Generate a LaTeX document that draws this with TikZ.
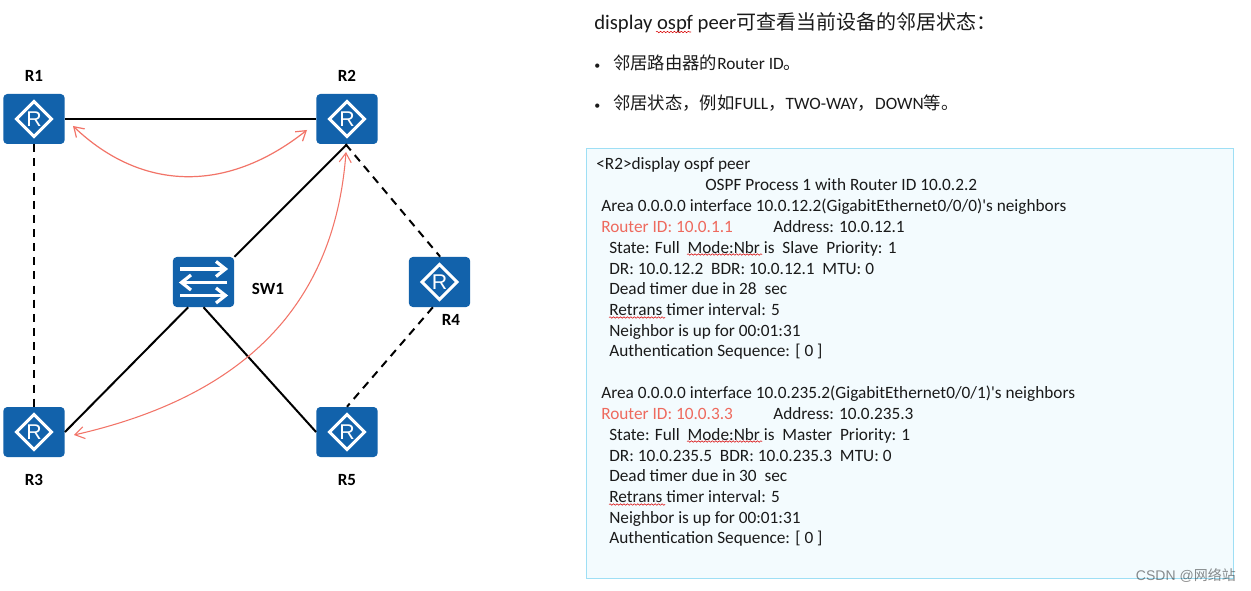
\documentclass[tikz,border=0pt]{standalone}
\usepackage{fontspec}
\setmainfont{Carlito}
\newfontfamily\cjk{Noto Sans CJK SC}
\newfontfamily\rfont{Liberation Sans}
\usetikzlibrary{arrows.meta,decorations.pathmorphing}
\definecolor{hwblue}{HTML}{1262AB}
\definecolor{redline}{HTML}{F27468}
\definecolor{redtext}{HTML}{EE6A5E}
\definecolor{panelfill}{HTML}{F3FBFE}
\definecolor{panelline}{HTML}{9EDFF5}
\definecolor{txt}{HTML}{1A1A1A}
\tikzset{
  x=0.75pt,y=-0.75pt,
  devbox/.style={fill=hwblue,rounded corners=3pt,minimum width=46pt,minimum height=37.5pt,inner sep=0pt,draw=none},
  icon/.style={draw=white,line width=2.2pt,line cap=butt,line join=miter},
  swicon/.style={draw=white,line width=2.4pt,line cap=butt,line join=miter},
  rletter/.style={text=white,font=\rfont\fontsize{16}{16}\selectfont,inner sep=0pt},
  devlabel/.style={font=\bfseries\fontsize{12.8}{13}\selectfont,inner sep=0pt,text=black},
  link/.style={draw=black,line width=1.5pt},
  dashlink/.style={link,dash pattern=on 6pt off 4.6pt},
  flow/.style={draw=redline,line width=0.9pt,{Straight Barb[length=7pt,width=9pt,line width=0.9pt]}-{Straight Barb[length=7pt,width=9pt,line width=0.9pt]}},
  flowone/.style={draw=redline,line width=0.8pt,{Straight Barb[length=7pt,width=9pt,line width=0.8pt]}-{Straight Barb[length=7pt,width=9pt,line width=0.8pt]}},
  cons/.style={anchor=base west,inner sep=0pt,text=txt,font=\fontsize{12.95}{14}\selectfont},
  consred/.style={cons,text=redtext},
  head/.style={anchor=base west,inner sep=0pt,text=txt,font=\fontsize{15.5}{16}\selectfont},
  bullet/.style={anchor=base west,inner sep=0pt,text=txt,font=\fontsize{13}{14}\selectfont},
  bulletdot/.style={anchor=base west,inner sep=0pt,text=txt,font=\fontsize{9}{10}\selectfont},
  wavy/.style={draw=red!85!black,line width=0.4pt,decorate,decoration={snake,amplitude=0.55pt,segment length=2.6pt}},
}
\newcommand{\routerdev}[3]{%
  \node[devbox] (#1) at (#2,#3) {};
  \draw[icon] (#2-17.5,#3) -- (#2,#3-17.5) -- (#2+17.5,#3) -- (#2,#3+17.5) -- cycle;
  \node[rletter] at (#2,#3) {R};
}
\begin{document}
\begin{tikzpicture}
\useasboundingbox (0,0) rectangle (1251,591);
\fill[white] (0,0) rectangle (1251,591);

\routerdev{r1}{34}{119}
\routerdev{r2}{347}{119}
\routerdev{r3}{34}{432}
\routerdev{r5}{347}{432}
\routerdev{r4}{439.5}{282}
\node[devbox] (sw) at (203.5,282) {};
\draw[swicon] (180,269) -- (225,269);
\draw[swicon] (216,261.5) -- (225.5,269) -- (216,276.5);
\draw[swicon] (227,282.5) -- (182,282.5);
\draw[swicon] (191,275) -- (181.5,282.5) -- (191,290);
\draw[swicon] (180,295.5) -- (225,295.5);
\draw[swicon] (216,288) -- (225.5,295.5) -- (216,303);

\draw[link] (r1.east) -- (r2.west);
\draw[dashlink] (r1.south) -- (r3.north);
\draw[link] (r2.south) -- (sw.north east);
\draw[dashlink] ([xshift=-1pt]r2.south) -- ([xshift=0.5pt]r4.north);
\draw[link] ([xshift=-11.5pt]sw.south) -- (r3.east);
\draw[link] (sw.south) -- (r5.west);
\draw[dashlink] ([xshift=-5pt]r4.south) -- (r5.north);

\node[devlabel] (l1) at (34,76) {R1};
\node[devlabel] (l2) at (347,76) {R2};
\node[devlabel] (l3) at (34,480) {R3};
\node[devlabel] (l5) at (347,480) {R5};
\node[devlabel] (l4) at (451,320) {R4};
\node[devlabel] (lsw) at (268,289) {SW1};

\coordinate (fa) at (73,126);
\coordinate (fb) at (307,130);
\coordinate (fc) at (346,152);
\coordinate (fd) at (74,435);
\draw[flow] (fa) .. controls (140,190) and (225,195) .. (fb);
\draw[flowone] (fc) .. controls (335,300) and (250,395) .. (fd);

\node[head] (h0) at (594,29.5) {display ospf peer{\cjk\fontsize{15}{16}\selectfont 可查看当前设备的邻居状态：}};
\draw[wavy] (656,32) -- (691,32);
\node[bulletdot] (b1dot) at (594,70) {•};
\node[bullet] (b1) at (613,70) {{\cjk 邻居路由器的}Router ID{\cjk 。}};
\node[bulletdot] (b2dot) at (594,110) {•};
\node[bullet] (b2) at (613,110) {{\cjk 邻居状态，例如}FULL{\cjk ，}TWO-WAY{\cjk ，}DOWN{\cjk 等。}};

\node[draw=panelline,fill=panelfill,line width=0.75pt,minimum width=485.5pt,minimum height=323pt,inner sep=0pt] (panel) at (910,363.5) {};
\node[cons] (c01) at (596,169.7) {<R2>display ospf peer};
\node[cons] (c02) at (705,190.7) {OSPF Process 1 with Router ID 10.0.2.2};
\node[cons] (c03) at (601,211.7) {Area 0.0.0.0 interface 10.0.12.2(GigabitEthernet0/0/0)\textquotesingle s neighbors};
\node[consred] (c04) at (601,232.7) {Router ID: 10.0.1.1};
\node[cons] (c04b) at (773,232.7) {Address: 10.0.12.1};
\node[cons] (c05) at (609,253.4) {State: Full\ \ Mode:Nbr is\ \ Slave\ \ Priority: 1};
\node[cons] (c06) at (609,274.2) {DR: 10.0.12.2\ \ BDR: 10.0.12.1\ \ MTU: 0};
\node[cons] (c07) at (609,294.7) {Dead timer due in 28\ \ sec};
\node[cons] (c08) at (609,315.7) {Retrans timer interval: 5};
\node[cons] (c09) at (609,336.7) {Neighbor is up for 00:01:31};
\node[cons] (c10) at (609,356.7) {Authentication Sequence: [ 0 ]};
\node[cons] (c11) at (601,398.7) {Area 0.0.0.0 interface 10.0.235.2(GigabitEthernet0/0/1)\textquotesingle s neighbors};
\node[consred] (c12) at (601,419.7) {Router ID: 10.0.3.3};
\node[cons] (c12b) at (773,419.7) {Address: 10.0.235.3};
\node[cons] (c13) at (609,440.2) {State: Full\ \ Mode:Nbr is\ \ Master\ \ Priority: 1};
\node[cons] (c14) at (609,461.2) {DR: 10.0.235.5\ \ BDR: 10.0.235.3\ \ MTU: 0};
\node[cons] (c15) at (609,481.7) {Dead timer due in 30\ \ sec};
\node[cons] (c16) at (609,502.7) {Retrans timer interval: 5};
\node[cons] (c17) at (609,523.7) {Neighbor is up for 00:01:31};
\node[cons] (c18) at (609,543.7) {Authentication Sequence: [ 0 ]};
\draw[wavy] (687,254.5) -- (762,254.5);
\draw[wavy] (609,317.5) -- (665,317.5);
\draw[wavy] (687,441.5) -- (762,441.5);
\draw[wavy] (609,504.5) -- (665,504.5);

\node[anchor=base east,inner sep=0pt,text=black,opacity=0.45,font=\fontsize{10.5}{11}\selectfont] (wm) at (1236,580) {\rfont CSDN @{\cjk 网络站}};
\end{tikzpicture}
\end{document}
